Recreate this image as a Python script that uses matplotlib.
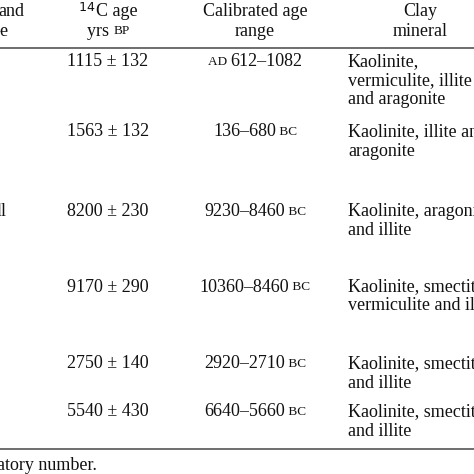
import matplotlib
matplotlib.use("Agg")
import matplotlib.pyplot as plt

ages = ["1115", "1563", "8200", "9170", "2750", "5540"]
errors = ["132", "132", "230", "290", "140", "430"]
cal_pre = ["AD", "", "", "", "", ""]
cal_range = ["612–1082", "136–680", "9230–8460", "10360–8460", "2920–2710", "6640–5660"]
cal_post = ["", "BC", "BC", "BC", "BC", "BC"]
minerals = [
    ["Kaolinite,", "vermiculite, illite", "and aragonite"],
    ["Kaolinite, illite and", "aragonite"],
    ["Kaolinite, aragonite", "and illite"],
    ["Kaolinite, smectite,", "vermiculite and illite"],
    ["Kaolinite, smectite", "and illite"],
    ["Kaolinite, smectite", "and illite"],
]
row_y = [62, 132, 212, 287, 364, 412]

W = H = 474
fig = plt.figure(figsize=(4.74, 4.74), dpi=100)
fig.patch.set_facecolor("white")
FAM = "Liberation Serif"
FS = 13
SC = 9.5
LH = 19

def T(x, y, s, ha="left", size=FS, **kw):
    return fig.text(x / W, 1 - y / H, s, ha=ha, va="center", fontsize=size,
                    family=FAM, color="#111111", **kw)

r = fig.canvas.get_renderer()
def width(s, size):
    t = T(0, -100, s, size=size)
    w = t.get_window_extent(r).width
    t.remove()
    return w

def mixed(xc, y, parts):
    ws = [width(s, sz) for s, sz in parts]
    x = xc - sum(ws) / 2
    for (s, sz), w in zip(parts, ws):
        T(x, y, s, size=sz)
        x += w

# header
T(-2, 12, "and")
T(-8, 31, "pe")
mixed(108, 12, [("$^{14}$", FS), ("C age", FS)])
mixed(108, 31, [("yrs ", FS), ("BP", SC)])
T(255, 12, "Calibrated age", ha="center")
T(255, 31, "range", ha="center")
T(420, 12, "Clay", ha="center")
T(420, 31, "mineral", ha="center")
fig.add_artist(plt.Line2D([0, 1], [1 - 48 / H] * 2, color="#555", lw=1.2))
T(-3, 212, "ll")

for i, y in enumerate(row_y):
    T(108, y, f"{ages[i]} ± {errors[i]}", ha="center")
    parts = []
    if cal_pre[i]:
        parts += [(cal_pre[i] + " ", SC)]
    parts += [(cal_range[i], FS)]
    if cal_post[i]:
        parts += [(" " + cal_post[i], SC)]
    mixed(255, y, parts)
    for j, line in enumerate(minerals[i]):
        T(348, y + j * LH, line)

fig.add_artist(plt.Line2D([0, 1], [1 - 449 / H] * 2, color="#555", lw=1.2))
T(-3, 465, "atory number.")
fig.savefig("out.png", dpi=100, facecolor="white")
